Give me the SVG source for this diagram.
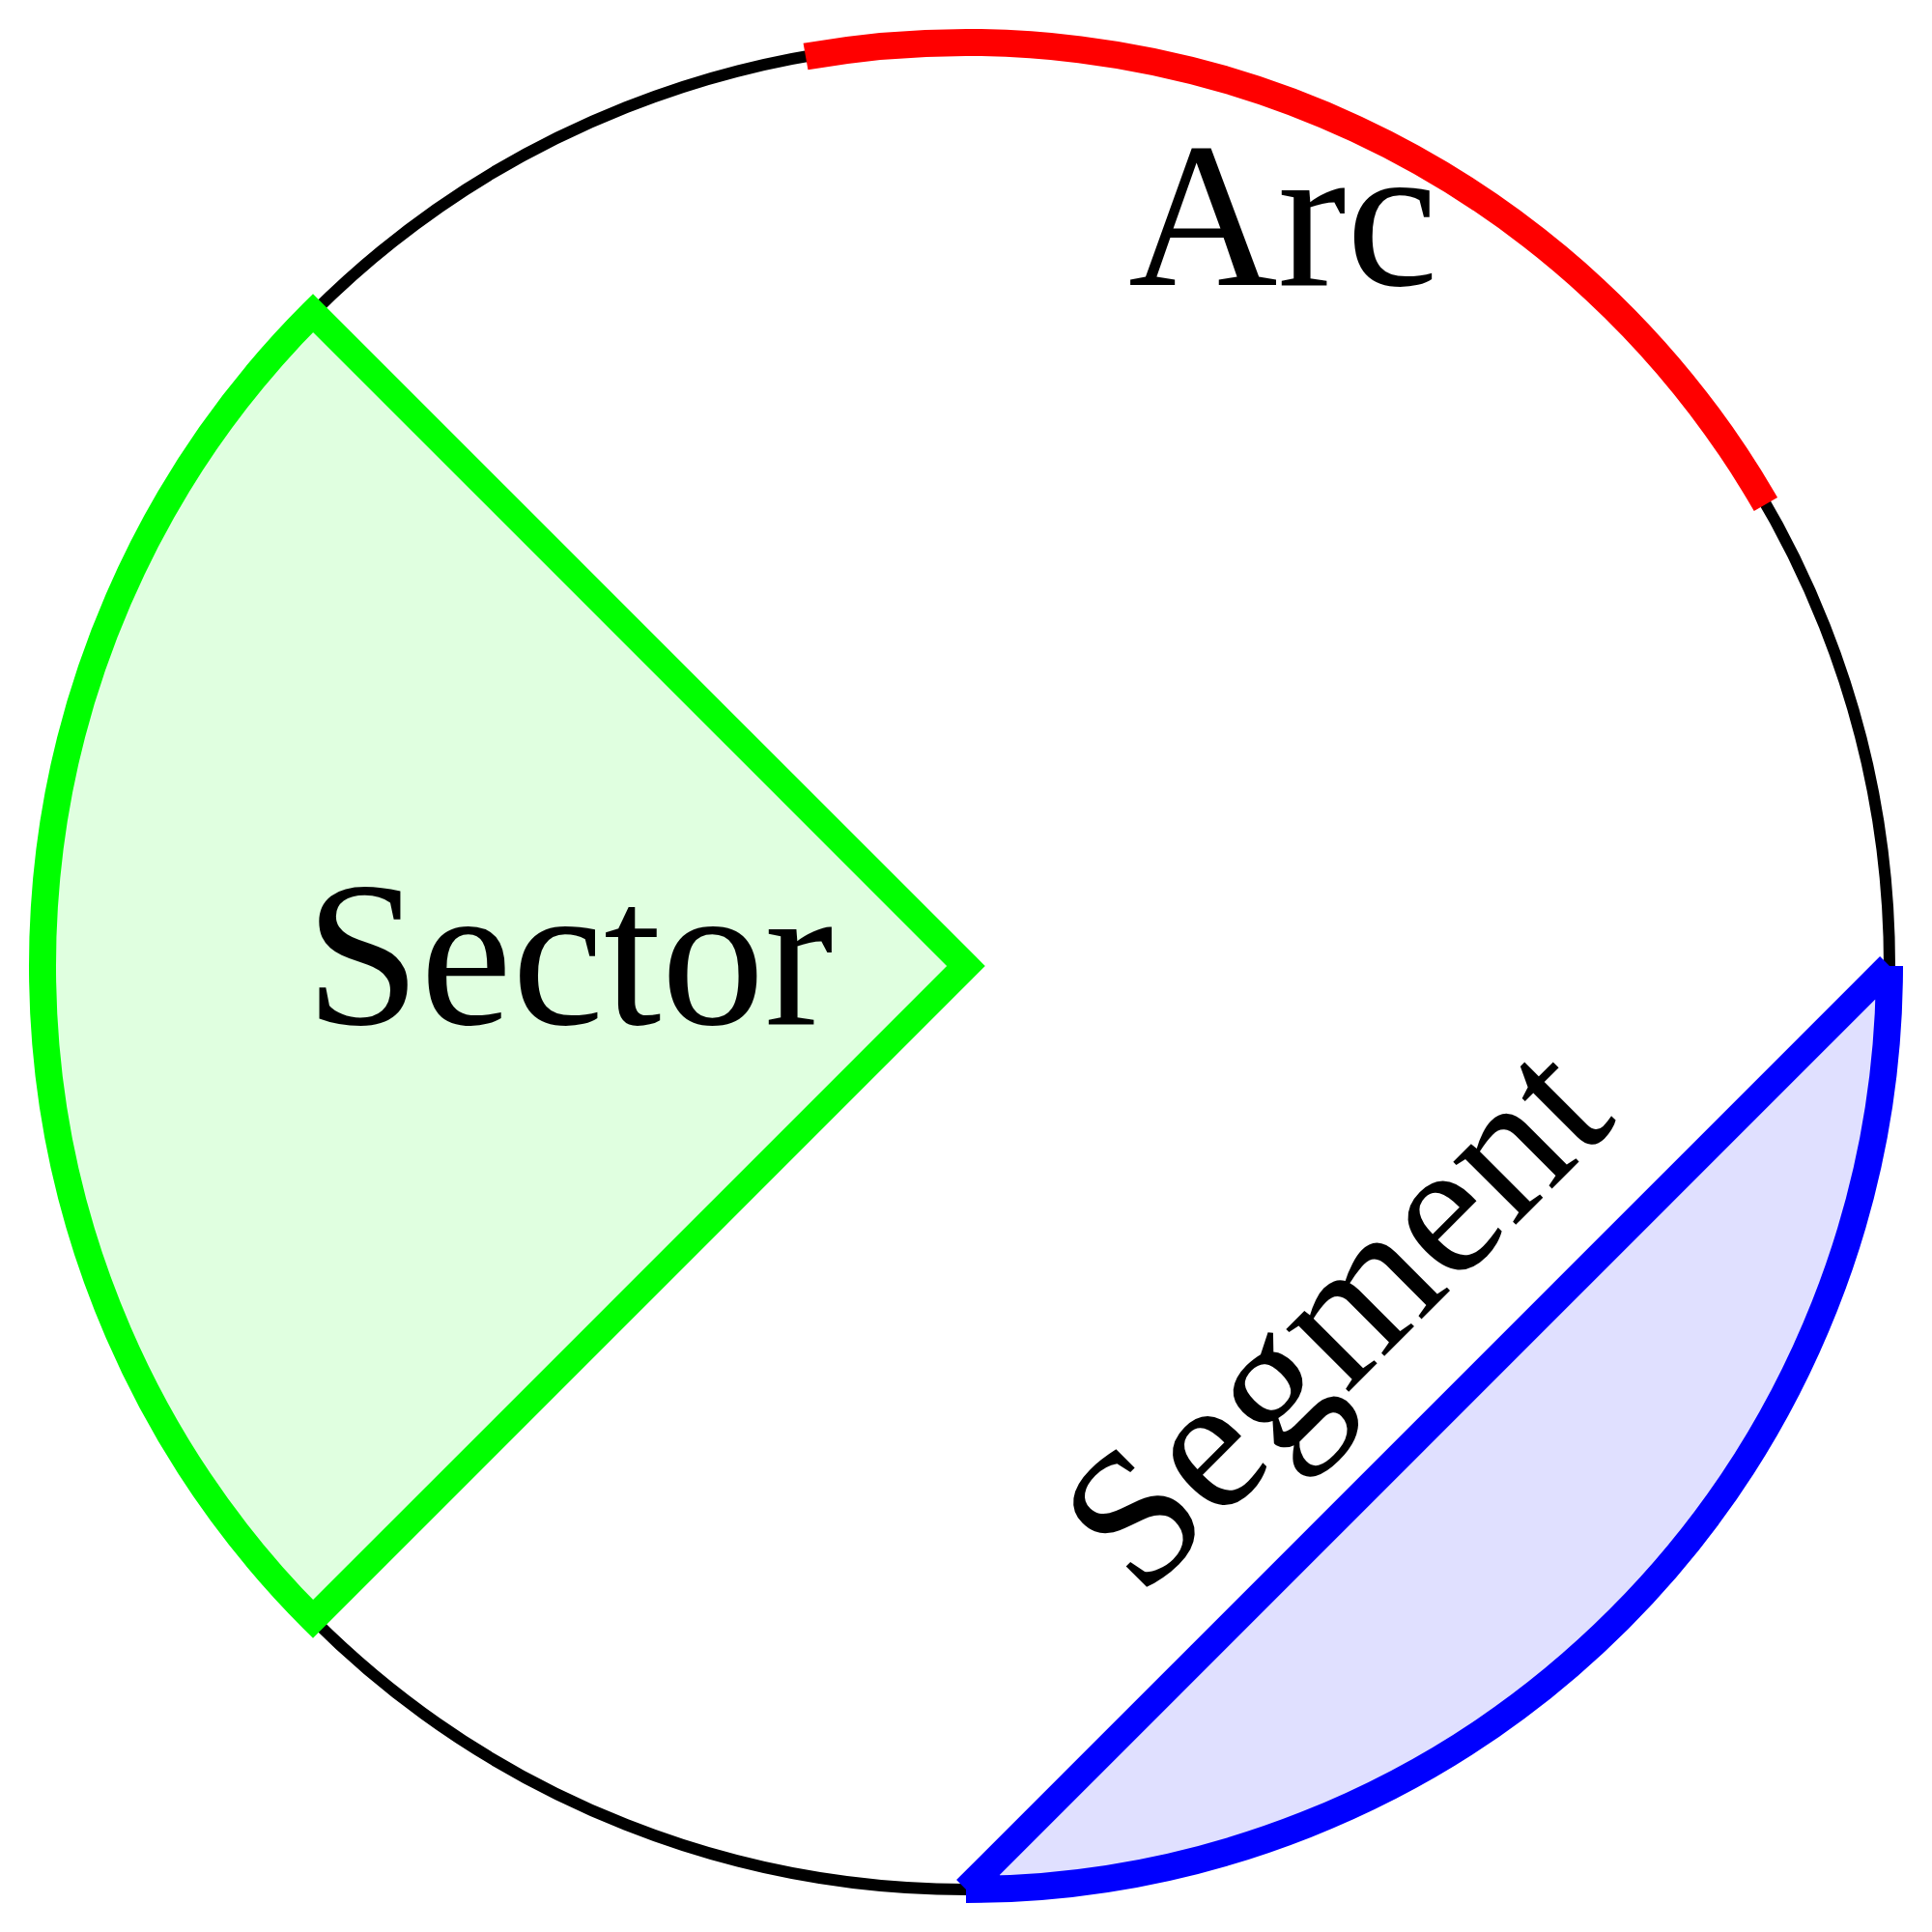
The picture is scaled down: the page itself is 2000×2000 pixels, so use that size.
<svg xmlns="http://www.w3.org/2000/svg" width="2000" height="2000" viewBox="0 0 2000 2000">
<style>
.lbl{font-family:"Liberation Serif","Times New Roman",serif;font-size:214px;fill:#000}
.thick{stroke-width:28;stroke-linecap:butt;stroke-linejoin:miter}
</style>
<rect width="2000" height="2000" fill="#fff"/>
<g id="circle">
<circle cx="1000" cy="1000" r="956" fill="none" stroke="#000" stroke-width="12"/>
</g>
<g id="sector">
<path class="thick" d="M1000,1000 L324,324 A956,956 0 0 0 324,1676 Z" fill="#e0ffe0" stroke="#00ff00"/>
<text class="lbl" x="316" y="1060">Sector</text>
</g>
<g id="segment">
<path d="M1956,1000 A956,956 0 0 1 1000,1956 Z" fill="#e0e0ff" stroke="none"/>
<path class="thick" d="M1956,1000 A956,956 0 0 1 1000,1956 M1000,1956 L1956,1000" fill="none" stroke="#0000ff"/>
<text class="lbl" x="1181" y="1656" transform="rotate(-45 1181 1656)" style="font-size:200px">Segment</text>
</g>
<g id="arc">
<path class="thick" d="M834,58.5 A956,956 0 0 1 1827.9,522" fill="none" stroke="#ff0000"/>
<text class="lbl" x="1168" y="295">Arc</text>
</g>
</svg>
